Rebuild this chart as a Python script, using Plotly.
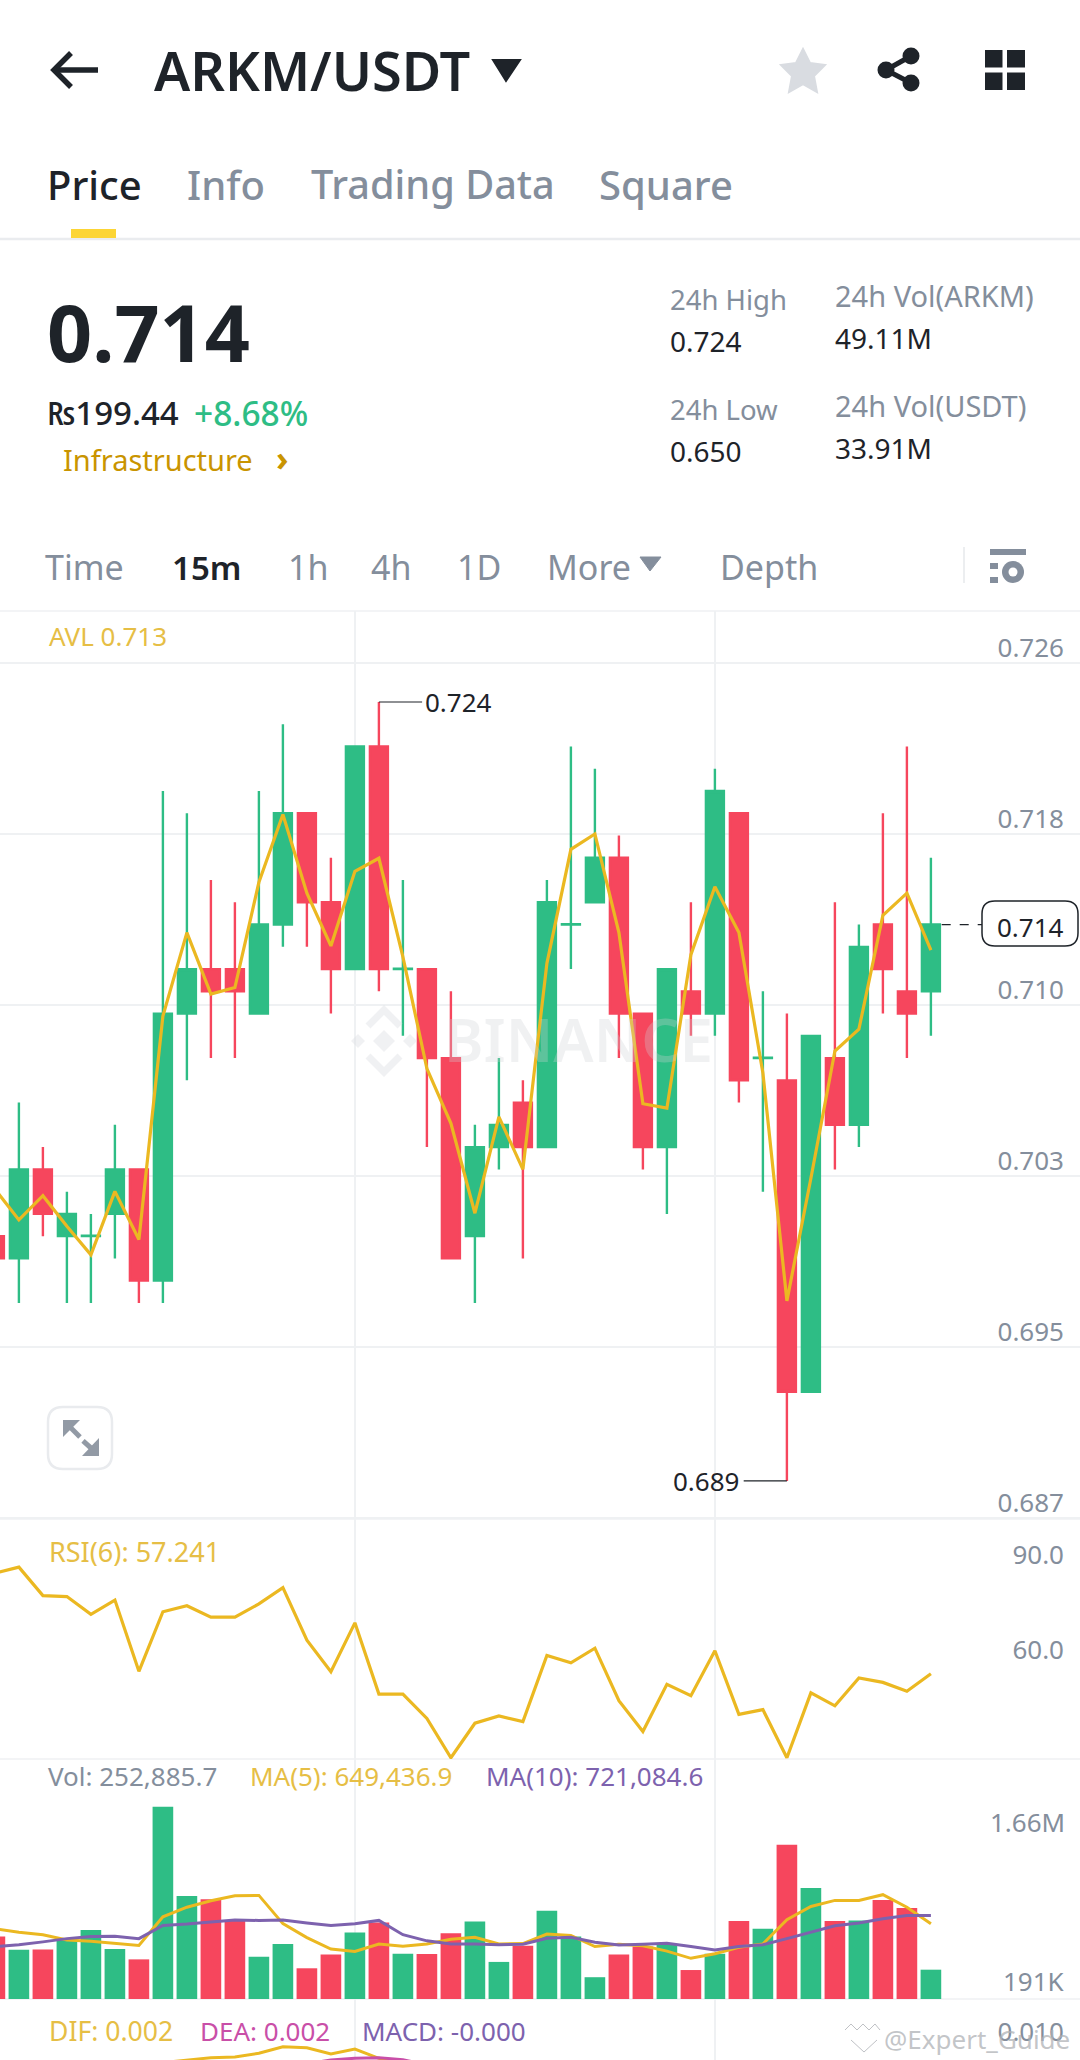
import plotly.graph_objects as go

W, H = 1080, 2060
FONT = "Noto Sans"
DARK = "#1E2329"
GRAY = "#848E9C"
GREEN = "#2EBD85"
RED = "#F6465D"
YELLOW = "#EBB821"
LABEL_YELLOW = "#E6BE45"
PURPLE = "#7D62AE"
MAGENTA = "#C94FA8"
GRID = "#EFF1F3"

candle_idx = list(range(-1, 39))
opens = [.700, .699, .703, .700, .700, .701, .703, .698, .710, .712,
         .712, .710, .714, .719, .715, .712, .722, .712, .712, .708,
         .700, .704, .706, .704, .714, .715, .717, .710, .704, .711,
         .710, .719, .708, .707, .693, .708, .705, .714, .711, .711]
closes = [.699, .703, .701, .701, .70002, .703, .698, .710, .712, .711,
          .711, .714, .719, .715, .712, .722, .712, .71202, .708, .699,
          .704, .705, .704, .715, .71402, .717, .710, .704, .712, .710,
          .720, .707, .70802, .693, .709, .705, .713, .712, .710, .714]
highs = [.700, .706, .704, .702, .701, .705, .703, .720, .719, .716,
         .715, .720, .723, .719, .717, .722, .724, .716, .712, .711,
         .705, .708, .707, .716, .722, .721, .718, .710, .712, .715,
         .721, .719, .711, .710, .709, .715, .714, .719, .722, .717]
lows = [.699, .697, .700, .697, .697, .699, .697, .697, .707, .708,
        .708, .710, .713, .713, .710, .712, .711, .709, .704, .699,
        .697, .703, .699, .704, .712, .715, .708, .703, .701, .709,
        .709, .706, .702, .689, .693, .703, .704, .710, .708, .709]
avl_line = [.70211, .70073, .70182, .70044, .69916, .70201, .69985, .70989, .71364, .71088,
            .71117, .7159, .71895, .71541, .71304, .71639, .71698, .71255, .70753, .70507,
            .70103, .70536, .703, .71226, .71738, .71807, .71364, .70595, .70575, .71265,
            .7157, .71364, .70733, .69709, .7026, .70832, .7093, .71442, .71541, .71285]

rsi6 = [89.0, 90.9, 81.9, 81.6, 76.0, 80.5, 58.0, 76.8, 78.7, 75.1,
        75.1, 79.3, 84.4, 67.8, 57.9, 73.3, 50.8, 50.8, 43.1, 30.7,
        41.6, 43.9, 42.1, 63.0, 60.7, 65.3, 48.7, 39.0, 53.9, 50.3,
        64.5, 44.4, 45.9, 30.7, 51.2, 47.1, 55.9, 54.5, 51.7, 57.241]

# volume in thousands
volume = [539, 425, 428, 509, 595, 431, 342, 1660, 888, 860,
          675, 364, 475, 265, 385, 573, 660, 391, 388, 567,
          669, 320, 459, 761, 539, 188, 385, 453, 468, 250,
          391, 672, 607, 1331, 958, 672, 678, 854, 786, 252.9]
ma5 = [607, 576, 555, 509, 499, 481, 462, 709, 792, 848,
       891, 894, 650, 530, 431, 410, 475, 456, 475, 515,
       533, 475, 478, 561, 549, 453, 472, 459, 413, 351,
       391, 447, 475, 684, 798, 851, 851, 900, 792, 649.4]
ma10 = [453, 468, 493, 521, 539, 542, 521, 635, 647, 663,
        681, 678, 681, 656, 635, 650, 678, 555, 502, 475,
        475, 468, 472, 524, 533, 490, 465, 472, 481, 453,
        422, 453, 468, 521, 576, 632, 656, 693, 721, 721.1]

# only the top of the MACD pane is on screen
macd_idx = [6, 7, 8, 9, 10, 11, 12, 13, 14, 15, 16]
dif = [.0074, .00783, .00822, .00833, .00895, .01005, .00988, .00883, .00967, .00812, .0072]
dea_idx = [12, 13, 14, 15, 16, 17]
dea = [.0072, .00783, .00812, .00822, .00789, .0070]

price_ticks = [.72575, .71807, .71039, .70271, .69503, .68735]
price_labels = ["0.726", "0.718", "0.710", "0.703", "0.695", "0.687"]
rsi_ticks = [90, 60]
rsi_labels = ["90.0", "60.0"]
macd_ticks = [.010]
macd_labels = ["0.010"]
split_ticks = [14, 29]


def px(x):
    return x / W


def py(y):
    return 1 - y / H


def pth(points, close=True):
    s = "M " + " L ".join(f"{px(a):.5f} {py(b):.5f}" for a, b in points)
    return s + (" Z" if close else "")


def dom(top, bottom):
    return [py(bottom), py(top)]


fig = go.Figure()

fig.add_trace(go.Candlestick(
    x=candle_idx, open=opens, high=highs, low=lows, close=closes,
    increasing=dict(line=dict(color=GREEN, width=2.4), fillcolor=GREEN),
    decreasing=dict(line=dict(color=RED, width=2.4), fillcolor=RED),
    whiskerwidth=0,
))
fig.add_trace(go.Scatter(x=candle_idx, y=avl_line, mode="lines",
                         line=dict(color=YELLOW, width=3.2)))
fig.add_trace(go.Scatter(x=candle_idx, y=rsi6, mode="lines", xaxis="x2", yaxis="y2",
                         line=dict(color=YELLOW, width=3.2)))
bar_colors = [GREEN if c >= o else RED for o, c in zip(opens, closes)]
fig.add_trace(go.Bar(x=candle_idx, y=volume, width=0.86, xaxis="x3", yaxis="y3",
                     marker=dict(color=bar_colors, line=dict(width=0))))
fig.add_trace(go.Scatter(x=candle_idx, y=ma5, mode="lines", xaxis="x3", yaxis="y3",
                         line=dict(color=YELLOW, width=3)))
fig.add_trace(go.Scatter(x=candle_idx, y=ma10, mode="lines", xaxis="x3", yaxis="y3",
                         line=dict(color=PURPLE, width=3)))
fig.add_trace(go.Scatter(x=macd_idx, y=dif, mode="lines", xaxis="x4", yaxis="y4",
                         line=dict(color=YELLOW, width=3)))
fig.add_trace(go.Scatter(x=dea_idx, y=dea, mode="lines", xaxis="x4", yaxis="y4",
                         line=dict(color=MAGENTA, width=3)))

x_range = [-0.7875, 44.2125]
x_common = dict(range=x_range, showticklabels=False, ticks="", showline=False, zeroline=False,
                tickmode="array", tickvals=split_ticks, showgrid=True, gridcolor=GRID, gridwidth=1.5)
y_common = dict(side="right", ticks="", showline=False, zeroline=False,
                ticklabelposition="inside top", ticklabelstandoff=13, ticklabelshift=3,
                ticklabeloverflow="allow",
                tickfont=dict(family=FONT, size=26, color=GRAY))

fig.update_layout(
    width=W, height=H,
    autosize=False,
    margin=dict(l=0, r=0, t=0, b=0),
    paper_bgcolor="white",
    plot_bgcolor="white",
    showlegend=False,
    boxgap=0.25,
    boxgroupgap=0,
    xaxis=dict(x_common, anchor="y", rangeslider=dict(visible=False)),
    xaxis2=dict(x_common, anchor="y2", matches="x"),
    xaxis3=dict(x_common, anchor="y3", matches="x"),
    xaxis4=dict(x_common, anchor="y4", matches="x"),
    yaxis=dict(y_common, domain=dom(611, 1519), range=[.68729, .72809],
               tickmode="array", tickvals=price_ticks, ticktext=price_labels,
               showgrid=True, gridcolor=GRID, gridwidth=1.5),
    yaxis2=dict(y_common, domain=dom(1519, 1759), range=[30.3, 106.1],
                tickmode="array", tickvals=rsi_ticks, ticktext=rsi_labels, showgrid=False),
    yaxis3=dict(y_common, domain=dom(1759, 1999), range=[0, 2071],
                showticklabels=False, showgrid=False),
    yaxis4=dict(y_common, domain=dom(1999, 2060), range=[.007833, .018],
                tickmode="array", tickvals=macd_ticks, ticktext=macd_labels, showgrid=False),
)

shapes = []
annotations = []


def text(x, y, s, size, color=DARK, weight=400, anchor="left"):
    annotations.append(dict(xref="paper", yref="paper", x=px(x - 1.3), y=py(y - 1), text=s, showarrow=False,
                            xanchor=anchor, yanchor="middle", borderpad=0,
                            font=dict(family=FONT, size=size, color=color, weight=weight)))


def rect(x0, y0, x1, y1, color):
    shapes.append(dict(type="rect", xref="paper", yref="paper", x0=px(x0), x1=px(x1),
                       y0=py(y0), y1=py(y1), fillcolor=color, line=dict(width=0)))


def hline(y, x0=0, x1=W, color=GRID, width=1.5):
    shapes.append(dict(type="line", xref="paper", yref="paper", x0=px(x0), x1=px(x1),
                       y0=py(y), y1=py(y), line=dict(color=color, width=width), layer="below"))


def poly(points, fill=None, color=None, width=0, close=True):
    shapes.append(dict(type="path", xref="paper", yref="paper", path=pth(points, close),
                       fillcolor=fill if fill else "rgba(0,0,0,0)",
                       line=dict(color=color if color else "rgba(0,0,0,0)", width=width)))


def circle(cx, cy, r, color):
    shapes.append(dict(type="circle", xref="paper", yref="paper", x0=px(cx - r), x1=px(cx + r),
                       y0=py(cy - r), y1=py(cy + r), fillcolor=color, line=dict(width=0)))


def round_rect(x0, y0, x1, y1, r, color, width):
    p = (f"M {px(x0 + r)} {py(y0)} L {px(x1 - r)} {py(y0)} Q {px(x1)} {py(y0)} {px(x1)} {py(y0 + r)} "
         f"L {px(x1)} {py(y1 - r)} Q {px(x1)} {py(y1)} {px(x1 - r)} {py(y1)} "
         f"L {px(x0 + r)} {py(y1)} Q {px(x0)} {py(y1)} {px(x0)} {py(y1 - r)} "
         f"L {px(x0)} {py(y0 + r)} Q {px(x0)} {py(y0)} {px(x0 + r)} {py(y0)} Z")
    shapes.append(dict(type="path", xref="paper", yref="paper", path=p, fillcolor="white",
                       line=dict(color=color, width=width)))


# header
poly([(98, 70), (55, 70)], color=DARK, width=5.5, close=False)
poly([(71, 53), (54, 70), (71, 87)], color=DARK, width=5.5, close=False)
text(154, 71, "ARKM/USDT", 54, DARK, 600)
poly([(493, 60), (520, 60), (506, 81)], fill=DARK, color=DARK, width=2)
poly([(803, 49), (810, 63), (825, 65), (814, 76), (817, 92), (803, 84),
      (789, 92), (792, 76), (781, 65), (796, 63)], fill="#D9DCE1", color="#D9DCE1", width=2)
poly([(886, 70), (911, 56)], color=DARK, width=5, close=False)
poly([(886, 70), (911, 83)], color=DARK, width=5, close=False)
circle(911, 56, 8.5, DARK)
circle(886, 70, 8.5, DARK)
circle(911, 83, 8.5, DARK)
rect(985, 50, 1002.5, 67.5, DARK)
rect(1007, 50, 1025, 67.5, DARK)
rect(985, 72.5, 1002.5, 90, DARK)
rect(1007, 72.5, 1025, 90, DARK)

# tabs
text(47, 185, "Price", 40, DARK, 500)
text(187, 185, "Info", 40, GRAY, 500)
text(311, 185, "Trading Data", 39.7, GRAY, 500)
text(599, 185, "Square", 40, GRAY, 500)
rect(71, 229, 116, 238, "#FCD535")
hline(239, color="#EAECEF", width=2.5)

# price summary
text(47, 333, "0.714", 79, DARK, 700)
text(47, 414, "₨199.44", 33, DARK, 500)
text(194, 414, "+8.68%", 33.5, GREEN, 500)
text(63, 460, "Infrastructure", 29, "#C99400")
text(276, 459, "›", 34, "#C99400", 700)
text(670, 300, "24h High", 27.5, GRAY)
text(670, 342, "0.724", 28, DARK)
text(670, 410, "24h Low", 27.5, GRAY)
text(670, 452, "0.650", 28, DARK)
text(835, 296, "24h Vol(ARKM)", 29, GRAY)
text(835, 339, "49.11M", 28, DARK)
text(835, 406, "24h Vol(USDT)", 29, GRAY)
text(835, 449, "33.91M", 28, DARK)

# period row
text(45, 568, "Time", 34, GRAY)
text(172, 568, "15m", 33, DARK, 600)
text(288, 568, "1h", 34, GRAY)
text(371, 568, "4h", 34, GRAY)
text(457, 568, "1D", 34, GRAY)
text(547, 568, "More", 34, GRAY)
poly([(640, 557), (661, 557), (650, 571)], fill=GRAY, color=GRAY, width=1)
text(720, 568, "Depth", 34, GRAY)
shapes.append(dict(type="line", xref="paper", yref="paper", x0=px(964), x1=px(964), y0=py(547), y1=py(583),
                   line=dict(color="#E6E8EB", width=1.5)))
rect(990, 549, 1026, 555, GRAY)
rect(990, 563, 998, 569, GRAY)
rect(990, 577, 998, 583, GRAY)
circle(1013, 572, 11, GRAY)
circle(1013, 572, 4.5, "white")

# pane rules
for y in (611, 1519, 1759, 1999):
    hline(y)

# watermark
WM = "rgba(222,224,228,0.45)"
poly([(384, 1030), (395, 1041), (384, 1052), (373, 1041)], fill=WM)
poly([(358, 1034), (365, 1041), (358, 1048), (351, 1041)], fill=WM)
poly([(410, 1034), (417, 1041), (410, 1048), (403, 1041)], fill=WM)
poly([(368, 1026), (384, 1010), (400, 1026)], color=WM, width=7, close=False)
poly([(368, 1056), (384, 1072), (400, 1056)], color=WM, width=7, close=False)
text(444, 1040, "BINANCE", 60, "rgba(205,208,212,0.3)", 600)

# pane captions
text(49, 637, "AVL 0.713", 26, LABEL_YELLOW)
text(49, 1552, "RSI(6): 57.241", 27, LABEL_YELLOW)
text(48, 1777, "Vol: 252,885.7", 26, GRAY)
text(250, 1777, "MA(5): 649,436.9", 26, LABEL_YELLOW)
text(486, 1777, "MA(10): 721,084.6", 26, PURPLE)
text(49, 2032, "DIF: 0.002", 26.6, LABEL_YELLOW)
text(200, 2032, "DEA: 0.002", 26, MAGENTA)
text(362, 2032, "MACD: -0.000", 26, PURPLE)

# high / low markers
hi_i = highs.index(max(highs))
lo_i = lows.index(min(lows))
shapes.append(dict(type="line", xref="x", yref="y", x0=candle_idx[hi_i], x1=candle_idx[hi_i] + 1.8,
                   y0=highs[hi_i], y1=highs[hi_i], line=dict(color=DARK, width=1.2)))
annotations.append(dict(xref="x", yref="y", x=candle_idx[hi_i] + 1.8, y=highs[hi_i], xshift=2, text=f"{highs[hi_i]:.3f}",
                        showarrow=False, xanchor="left", yanchor="middle", borderpad=0,
                        font=dict(family=FONT, size=26, color=DARK)))
shapes.append(dict(type="line", xref="x", yref="y", x0=candle_idx[lo_i], x1=candle_idx[lo_i] - 1.8,
                   y0=lows[lo_i], y1=lows[lo_i], line=dict(color=DARK, width=1.2)))
annotations.append(dict(xref="x", yref="y", x=candle_idx[lo_i] - 1.8, y=lows[lo_i], xshift=-4, text=f"{lows[lo_i]:.3f}",
                        showarrow=False, xanchor="right", yanchor="middle", borderpad=0,
                        font=dict(family=FONT, size=26, color=DARK)))

# last price tag
shapes.append(dict(type="line", xref="x", yref="y", x0=candle_idx[-1] + 0.45, x1=40.9, y0=closes[-1], y1=closes[-1],
                   line=dict(color=DARK, width=1.2, dash="dash")))
round_rect(982, 901, 1078, 946, 13, DARK, 1.5)
annotations.append(dict(xref="paper", yref="y", x=px(1030), y=closes[-1], yshift=-2, text=f"{closes[-1]:.3f}",
                        showarrow=False, xanchor="center", yanchor="middle", borderpad=0,
                        font=dict(family=FONT, size=26, color=DARK)))

# expand button
round_rect(48, 1407, 112, 1469, 15, "#E9EBEE", 2.5)
poly([(63, 1420), (80, 1420), (63, 1437)], fill="#929AA5")
poly([(99, 1438), (99, 1456), (82, 1456)], fill="#929AA5")
poly([(71, 1428), (80, 1437)], color="#929AA5", width=5, close=False)
poly([(83, 1441), (91, 1448)], color="#929AA5", width=5, close=False)

# volume axis labels sit under their level
for value, label, shift in [(1660, "1.66M", -15.5), (191, "191K", -4.5)]:
    annotations.append(dict(xref="paper", yref="y3", x=px(1066), y=value, yshift=shift, text=label,
                            showarrow=False, xanchor="right", yanchor="middle", borderpad=0,
                            font=dict(family=FONT, size=26, color=GRAY)))

# corner credit
text(884, 2040, "@Expert_Guide", 26, "rgba(175,178,182,0.75)")
poly([(845, 2030), (851, 2024), (857, 2030), (863, 2024), (869, 2030), (875, 2024), (880, 2030)],
     color="rgba(175,178,182,0.8)", width=1, close=False)
poly([(851, 2040), (864, 2052), (877, 2040)], color="rgba(175,178,182,0.8)", width=1, close=False)

fig.update_layout(shapes=shapes, annotations=annotations)

# the page's default body margin would push the figure off the window
fig.write_html("out.html", config={"displayModeBar": False},
               post_script="document.body.style.margin='0';")
